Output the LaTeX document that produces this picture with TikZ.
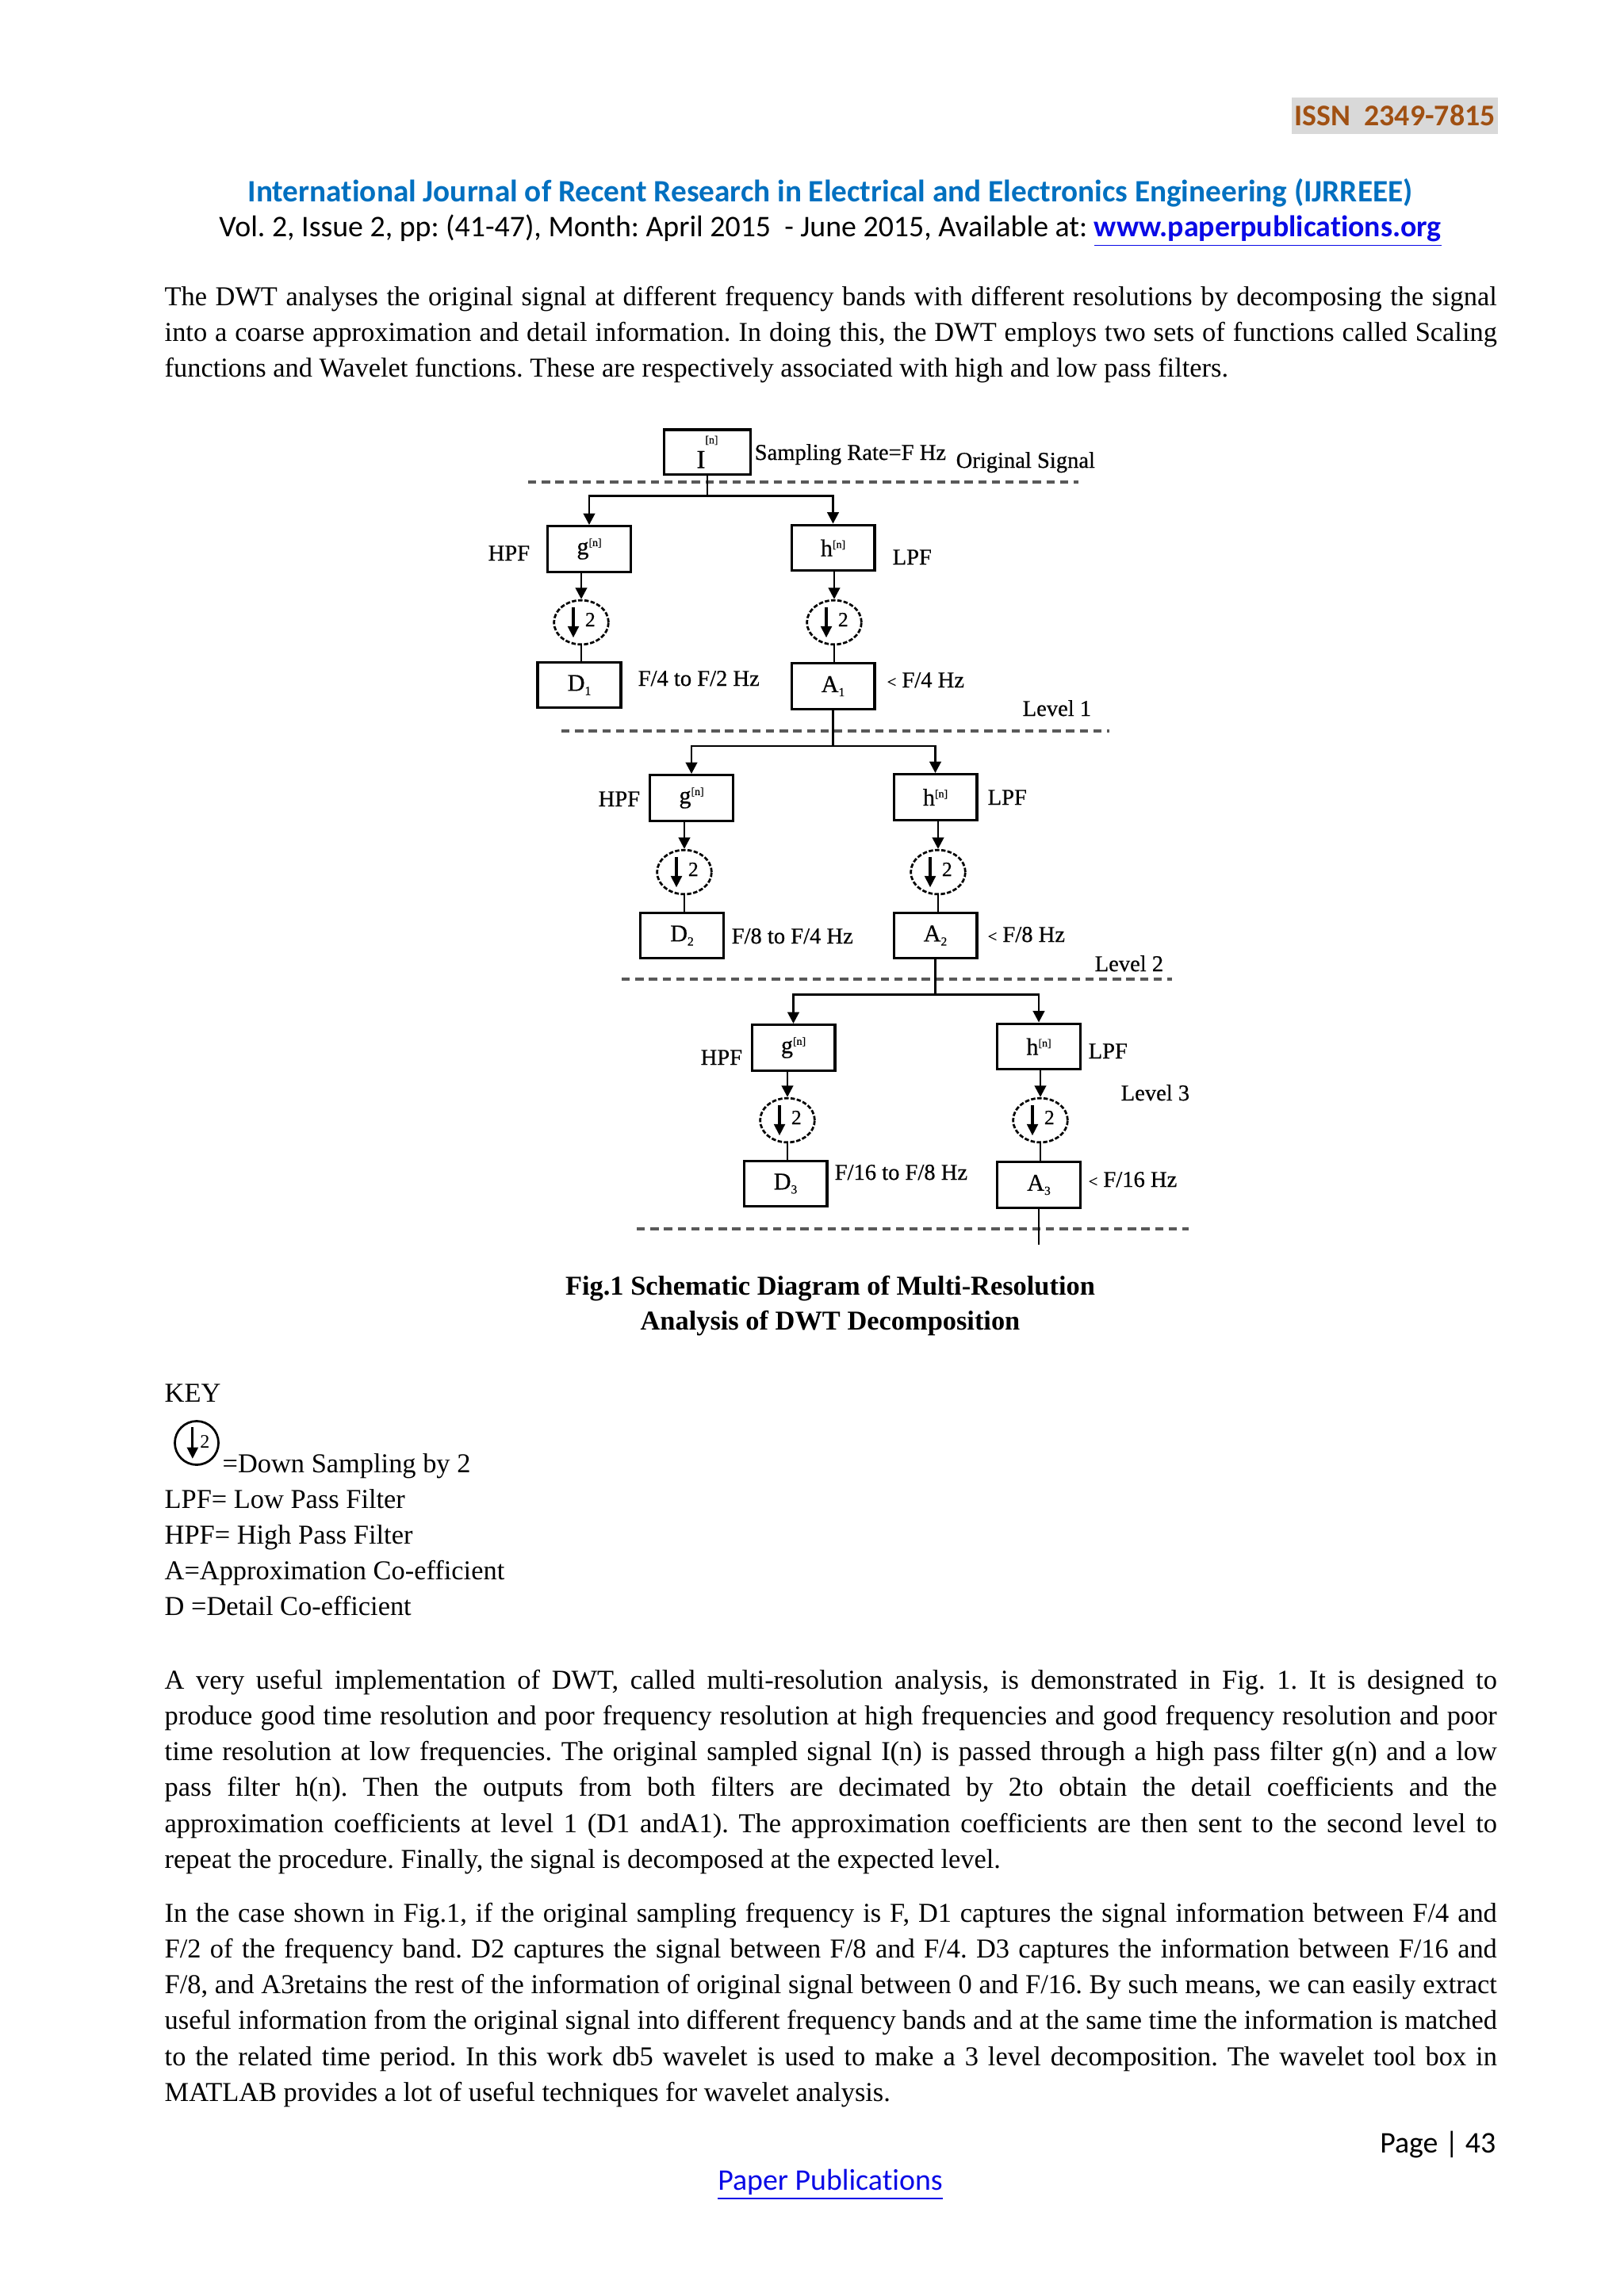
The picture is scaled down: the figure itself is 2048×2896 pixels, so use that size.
\documentclass[tikz,border=0pt]{standalone}
\usepackage{fontspec}
\setmainfont{Liberation Serif}
\newfontfamily\calibri[Ligatures={NoCommon}]{Carlito}
\newfontfamily\diagfont[FakeBold=0.5]{Liberation Serif}
\usetikzlibrary{arrows.meta, positioning, shapes.geometric}
\frenchspacing

\definecolor{issnbrown}{RGB}{160,80,18}
\definecolor{issngray}{RGB}{217,217,217}
\definecolor{journalblue}{RGB}{0,112,192}
\definecolor{linkblue}{RGB}{10,10,230}

\newcommand{\fsz}[1]{\fontsize{#1}{#1}\selectfont}
\newcommand{\nsup}{{\fsz{4}[n]}}

\begin{document}
\begin{tikzpicture}[
    x=0.2907pt, y=-0.2907pt,
    >={Triangle[length=4.2pt,width=4.2pt]},
    box/.style={draw, line width=0.9pt, minimum width=30.5pt, minimum height=16.8pt, inner sep=0pt, font=\diagfont\fsz{8.8}},
    dsample/.style={draw, ellipse, dash pattern=on 1.6pt off 0.7pt, line width=0.8pt, minimum width=20pt, minimum height=16.2pt, inner sep=0pt},
    lbl/.style={anchor=base west, inner sep=0pt, font=\diagfont\fsz{8.3}},
    sep/.style={dash pattern=on 3pt off 2pt, line width=0.9pt, black!65},
    link/.style={line width=0.8pt},
    body/.style={anchor=base west, inner sep=0pt, text width=488.4pt, align=justify, font=\fontsize{10}{13.17}\selectfont},
    keyline/.style={anchor=base west, inner sep=0pt, font=\fsz{10}}
]
\fill[white] (0,0) rectangle (2048,2896);
\useasboundingbox (0,0) rectangle (2048,2896);

% page header
\node[fill=issngray, minimum width=75.6pt, minimum height=13.4pt, inner sep=0pt,
      text=issnbrown, font=\calibri\bfseries\fsz{11}] (issn) at (1759,146) {ISSN\ \ 2349-7815};
\node[anchor=base, inner sep=0pt, text=journalblue, font=\calibri\bfseries\fsz{11.4}] (journal) at (1047,254)
    {International Journal of Recent Research in Electrical and Electronics Engineering (IJRREEE)};
\node[anchor=base, inner sep=0pt, font=\calibri\fsz{11}] (volume) at (1047,298)
    {Vol. 2, Issue 2, pp: (41-47), Month: April 2015\ \ - June 2015, Available at: \textcolor{linkblue}{\bfseries\underline{www.paperpublications.org}}};

\node[body] (para1) at (207,385) {The DWT analyses the original signal at different frequency bands with different resolutions by decomposing the signal\linebreak
into a coarse approximation and detail information. In doing this, the DWT employs two sets of functions called Scaling\linebreak
functions and Wavelet functions. These are respectively associated with high and low pass filters.};

% level 0
\node[box, minimum width=31.7pt, minimum height=16.3pt] (sig) at (892,570) {\raisebox{-2pt}{\fsz{9.5}I}\raisebox{7pt}{\nsup}};
\node[lbl] (rate) at (951,580) {Sampling Rate=F Hz};
\node[lbl] (orig) at (1205,590) {Original Signal};
\draw[sep] (666,608) -- (1360,608);

% level 1
\node[box] (g1) at (743,692.5) {g\raisebox{3pt}{\nsup}};
\node[box] (h1) at (1050.5,691) {h\raisebox{3pt}{\nsup}};
\node[dsample] (c1l) at (733,785) {};
\node[dsample] (c1r) at (1052,785) {};
\node[box] (d1) at (730.5,864) {D\raisebox{-1.5pt}{\fsz{4.5}1}};
\node[box] (a1) at (1050.5,865.5) {A\raisebox{-1.5pt}{\fsz{4.5}1}};
\node[lbl] (hpf1) at (615,707) {HPF};
\node[lbl] (lpf1) at (1125,712) {LPF};
\node[lbl] (fd1) at (804,865) {F/4 to F/2 Hz};
\node[lbl] (fa1) at (1118,867) {{\fsz{6}<} F/4 Hz};
\node[lbl] (lev1) at (1289,903) {Level 1};
\draw[sep] (708,922) -- (1399,922);

% level 2
\node[box] (g2) at (872,1006.5) {g\raisebox{3pt}{\nsup}};
\node[box] (h2) at (1179.5,1005.5) {h\raisebox{3pt}{\nsup}};
\node[dsample] (c2l) at (863,1100) {};
\node[dsample] (c2r) at (1183,1100) {};
\node[box] (d2) at (860,1180) {D\raisebox{-1.5pt}{\fsz{4.5}2}};
\node[box] (a2) at (1179.5,1180) {A\raisebox{-1.5pt}{\fsz{4.5}2}};
\node[lbl] (hpf2) at (754,1017) {HPF};
\node[lbl] (lpf2) at (1245,1015) {LPF};
\node[lbl] (fd2) at (922,1190) {F/8 to F/4 Hz};
\node[lbl] (fa2) at (1245,1188) {{\fsz{6}<} F/8 Hz};
\node[lbl] (lev2) at (1380,1225) {Level 2};
\draw[sep] (784,1235) -- (1478,1235);

% level 3
\node[box] (g3) at (1000.5,1321.5) {g\raisebox{3pt}{\nsup}};
\node[box] (h3) at (1310,1320) {h\raisebox{3pt}{\nsup}};
\node[dsample] (c3l) at (993,1413) {};
\node[dsample] (c3r) at (1312,1413) {};
\node[box] (d3) at (990.5,1493) {D\raisebox{-1.5pt}{\fsz{4.5}3}};
\node[box] (a3) at (1310,1494.5) {A\raisebox{-1.5pt}{\fsz{4.5}3}};
\node[lbl] (hpf3) at (883,1343) {HPF};
\node[lbl] (lpf3) at (1372,1335) {LPF};
\node[lbl] (lev3) at (1413,1388) {Level 3};
\node[lbl] (fd3) at (1052,1488) {F/16 to F/8 Hz};
\node[lbl] (fa3) at (1372,1497) {{\fsz{6}<} F/16 Hz};
\draw[sep] (803,1550) -- (1499,1550);

% connectors
\draw[link] (sig.south) -- ++(0,26) coordinate (s1);
\draw[link] (a1.south) -- ++(0,45) coordinate (s2);
\draw[link] (a2.south) -- ++(0,44) coordinate (s3);
\draw[link] (a3.south) -- ++(0,45) coordinate (s4);
\foreach \s/\g/\h in {s1/g1/h1, s2/g2/h2, s3/g3/h3} {
    \draw[link, ->] (\s) -| (\g.north);
    \draw[link, ->] (\s) -| (\h.north);
}
\foreach \f/\c/\o in {g1/c1l/d1, h1/c1r/a1, g2/c2l/d2, h2/c2r/a2, g3/c3l/d3, h3/c3r/a3} {
    \draw[link, ->] (\c.north |- \f.south) -- (\c.north);
    \draw[link] (\c.south) -- (\c.south |- \o.north);
    \draw[line width=0.9pt, -{Triangle[length=4.2pt,width=4pt]}]
        ([xshift=-2.9pt,yshift=5.6pt]\c.center) -- ([xshift=-2.9pt,yshift=-5.6pt]\c.center);
    \node[inner sep=0pt, font=\diagfont\fsz{7.5}] at ([xshift=3.3pt,yshift=1pt]\c.center) {2};
}

% caption
\node[anchor=base, inner sep=0pt, font=\bfseries\fsz{10}] (cap1) at (1047,1633) {Fig.1 Schematic Diagram of Multi-Resolution};
\node[anchor=base, inner sep=0pt, font=\bfseries\fsz{10}] (cap2) at (1047,1677) {Analysis of DWT Decomposition};

% key
\node[keyline] (key) at (207,1768) {KEY};
\node[draw, circle, line width=0.8pt, minimum size=16pt, inner sep=0pt] (keysym) at (248,1820) {};
\draw[line width=0.9pt, -{Triangle[length=4.2pt,width=4pt]}]
    ([xshift=-1.5pt,yshift=5.8pt]keysym.center) -- ([xshift=-1.5pt,yshift=-5.8pt]keysym.center);
\node[inner sep=0pt, font=\fsz{7}] at ([xshift=3pt,yshift=0.5pt]keysym.center) {2};
\node[keyline] (keyds) at (280,1857) {=Down Sampling by 2};
\node[keyline] (keylpf) at (207,1902) {LPF= Low Pass Filter};
\node[keyline] (keyhpf) at (207,1947) {HPF= High Pass Filter};
\node[keyline] (keya) at (207,1992) {A=Approximation Co-efficient};
\node[keyline] (keyd) at (207,2037) {D =Detail Co-efficient};

\node[body] (para3) at (207,2130) {A very useful implementation of DWT, called multi-resolution analysis, is demonstrated in Fig. 1. It is designed to\linebreak
produce good time resolution and poor frequency resolution at high frequencies and good frequency resolution and poor\linebreak
time resolution at low frequencies. The original sampled signal I(n) is passed through a high pass filter g(n) and a low\linebreak
pass filter h(n). Then the outputs from both filters are decimated by 2to obtain the detail coefficients and the\linebreak
approximation coefficients at level 1 (D1 andA1). The approximation coefficients are then sent to the second level to\linebreak
repeat the procedure. Finally, the signal is decomposed at the expected level.};

\node[body] (para4) at (207,2424) {In the case shown in Fig.1, if the original sampling frequency is F, D1 captures the signal information between F/4 and\linebreak
F/2 of the frequency band. D2 captures the signal between F/8 and F/4. D3 captures the information between F/16 and\linebreak
F/8, and A3retains the rest of the information of original signal between 0 and F/16. By such means, we can easily extract\linebreak
useful information from the original signal into different frequency bands and at the same time the information is matched\linebreak
to the related time period. In this work db5 wavelet is used to make a 3 level decomposition. The wavelet tool box in\linebreak
MATLAB provides a lot of useful techniques for wavelet analysis.};

% footer
\node[anchor=base east, inner sep=0pt, font=\calibri\fsz{11}] (pageno) at (1887,2715) {Page | 43};
\node[anchor=base, inner sep=0pt, font=\calibri\fsz{11}, text=linkblue] (publisher) at (1047,2762) {\underline{Paper Publications}};
\end{tikzpicture}
\end{document}
